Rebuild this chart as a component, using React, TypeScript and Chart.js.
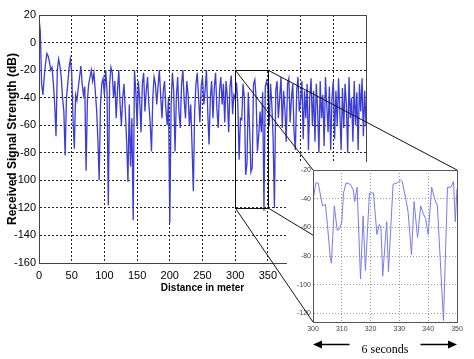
import { useEffect, useRef } from 'react';
import { Chart, registerables } from 'chart.js';

Chart.register(...registerables);

// ---------------- data ----------------
const mainStep = 2; // metres between samples of the main trace
const mainValues = [
  18, 8, -30, -38, -25, -15, -8, -10, -14, -20,
  -18, -30, -45, -68, -20, -12, -17, -25, -40, -50,
  -82, -40, -30, -18, -12, -22, -55, -77, -38, -42,
  -33, -25, -17, -30, -38, -32, -93, -42, -30, -25,
  -20, -28, -22, -35, -48, -70, -100, -45, -30, -26,
  -38, -20, -35, -118, -30, -18, -22, -40, -28, -55,
  -35, -20, -45, -60, -40, -30, -50, -72, -101, -45,
  -90, -55, -129, -20, -35, -60, -28, -42, -65, -30,
  -22, -50, -35, -25, -45, -58, -79, -40, -25, -30,
  -45, -32, -20, -38, -55, -35, -28, -48, -60, -40,
  -131, -45, -22, -35, -79, -40, -25, -50, -62, -30,
  -20, -42, -55, -28, -38, -60, -45, -75, -108, -50,
  -30, -22, -40, -58, -32, -25, -45, -35, -20, -50,
  -74, -40, -28, -55, -33, -22, -48, -62, -35, -25,
  -45, -30, -58, -28, -40, -65, -32, -24, -52, -38,
  -41, -29, -44, -85, -55, -56, -30, -40, -96, -88,
  -36, -62, -94, -91, -30, -27, -40, -79, -67, -50,
  -65, -36, -122, -32, -28, -33, -60, -30, -45, -70,
  -120, -35, -28, -55, -40, -25, -62, -35, -48, -72,
  -30, -26, -58, -40, -30, -65, -78, -35, -25, -50,
  -42, -28, -70, -35, -55, -30, -78, -40, -26, -60,
  -35, -72, -30, -48, -80, -28, -55, -38, -75, -25,
  -45, -65, -32, -78, -40, -28, -70, -35, -60, -26,
  -50, -78, -33, -62, -30, -45, -80, -25, -55, -40,
  -72, -28, -60, -36, -78, -30, -50, -26, -68, -35,
  -60,
];
const mainXTicks = [0, 50, 100, 150, 200, 250, 300, 350, 400, 450, 500];
const mainYTicks = [20, 0, -20, -40, -60, -80, -100, -120, -140, -160];

const insetDist = [
  300, 301, 301.8, 303.3, 304.3, 305, 306, 306.4, 307.4, 308.4,
  309.3, 310, 310.6, 311.5, 313, 314, 314.5, 315.3, 316.5, 317.4,
  318.2, 319.6, 321, 322.2, 323, 323.6, 324.2, 325.6, 326.2, 327.8,
  329.2, 330.3, 331, 332.4, 333, 334.2, 335.1, 336.3, 337.4, 338.2,
  339.1, 340, 341.2, 342.2, 343.2, 345.3, 346.7, 347.9, 348.8, 349.4,
  350,
];
const insetValues = [
  -41, -29, -29, -45, -44, -58, -81, -85, -45, -62,
  -61, -56, -36, -29, -30, -34, -42, -32, -96, -52,
  -90, -36, -36, -65, -58, -60, -94, -56, -91, -30,
  -29, -27, -28, -42, -49, -79, -42, -67, -45, -50,
  -54, -65, -32, -40, -45, -125, -32, -32, -28, -56,
  -33,
];
const insetXTicks = [300, 310, 320, 330, 340, 350];
const insetYTicks = [-20, -40, -60, -80, -100, -120];

const zoomX = [300, 350];
const zoomY = [-20, -120];

const xTitle = 'Distance in meter';
const yTitle = 'Received Signal Strength (dB)';
const insetTitle = '6 seconds';

// ---------------- layout ----------------
const W = 474;
const H = 359;
const INSET_LEFT = 287;
const INSET_TOP = 162;
const INSET_W = W - INSET_LEFT;
const INSET_H = H - INSET_TOP;

const NARROW = "'Liberation Sans Narrow', 'Arial Narrow', 'Liberation Sans', sans-serif";
const SANS = "'Liberation Sans', Arial, sans-serif";
const SERIF = "'Liberation Serif', 'Times New Roman', serif";

export default function App() {
  const mainRef = useRef<HTMLCanvasElement>(null);
  const insetRef = useRef<HTMLCanvasElement>(null);
  const overRef = useRef<HTMLCanvasElement>(null);

  useEffect(() => {
    const framePlugin = (color: string) => ({
      id: 'frame',
      afterDatasetsDraw(chart: any) {
        const { ctx, chartArea: a } = chart;
        ctx.save();
        ctx.strokeStyle = color;
        ctx.lineWidth = 1;
        ctx.strokeRect(Math.round(a.left) + 0.5, Math.round(a.top) + 0.5, Math.round(a.right - a.left), Math.round(a.bottom - a.top));
        ctx.restore();
      },
    });

    const main = new Chart(mainRef.current!, {
      type: 'line',
      data: {
        datasets: [
          {
            data: mainValues.map((v, i) => ({ x: i * mainStep, y: v })),
            borderColor: '#3c3cd6',
            borderWidth: 1.3,
            pointRadius: 0,
            tension: 0,
          },
        ],
      },
      options: {
        responsive: false,
        animation: false,
        devicePixelRatio: 1,
        layout: { padding: { left: 0, top: 15, right: 108, bottom: 65 } },
        plugins: { legend: { display: false }, tooltip: { enabled: false } },
        scales: {
          x: {
            type: 'linear',
            min: 0,
            max: 500,
            afterBuildTicks: (s: any) => {
              s.ticks = mainXTicks.map((v) => ({ value: v }));
            },
            afterFit: (s: any) => {
              s.height = 31;
            },
            grid: { color: '#222', drawTicks: false, lineWidth: 1 },
            border: { display: true, color: '#444', dash: [2, 2] },
            ticks: { font: { family: NARROW, size: 11 }, color: '#000', padding: 6, maxRotation: 0, autoSkip: false },
            title: {
              display: true,
              text: xTitle,
              font: { family: NARROW, size: 10, weight: 'bold' },
              color: '#000',
              padding: { top: 0, bottom: 0 },
            },
          },
          y: {
            type: 'linear',
            min: -160,
            max: 20,
            afterBuildTicks: (s: any) => {
              s.ticks = mainYTicks.map((v) => ({ value: v }));
            },
            afterFit: (s: any) => {
              s.width = 39;
            },
            grid: { color: '#222', drawTicks: false, lineWidth: 1 },
            border: { display: true, color: '#444', dash: [2, 2] },
            ticks: { font: { family: NARROW, size: 11 }, color: '#000', padding: 3, autoSkip: false },
            title: {
              display: true,
              text: yTitle,
              font: { family: SANS, size: 12, weight: 'bold' },
              color: '#000',
              padding: { top: 5, bottom: 0 },
            },
          },
        },
      },
      plugins: [framePlugin('#444')],
    } as any);

    const insetExtras = {
      id: 'insetExtras',
      beforeDraw(chart: any) {
        const { ctx } = chart;
        ctx.save();
        ctx.fillStyle = '#fff';
        ctx.fillRect(0, 0, chart.width, chart.height);
        ctx.restore();
      },
      afterDraw(chart: any) {
        const { ctx } = chart;
        const xs = chart.scales.x;
        const x0 = xs.getPixelForValue(insetXTicks[0]);
        const x1 = xs.getPixelForValue(insetXTicks[insetXTicks.length - 1]);
        const titleCenter = xs.bottom - 7.2;
        const y = Math.round(titleCenter - 6) + 0.5;
        ctx.save();
        ctx.font = `12px ${SERIF}`;
        const tw = ctx.measureText(insetTitle).width;
        const cx = (x0 + x1) / 2;
        const gap = 12;
        ctx.strokeStyle = '#000';
        ctx.fillStyle = '#000';
        ctx.lineWidth = 1.5;
        ctx.beginPath();
        ctx.moveTo(x0 + 6, y);
        ctx.lineTo(cx - tw / 2 - gap, y);
        ctx.moveTo(cx + tw / 2 + gap, y);
        ctx.lineTo(x1 - 6, y);
        ctx.stroke();
        ctx.beginPath();
        ctx.moveTo(x0, y);
        ctx.lineTo(x0 + 9, y - 4);
        ctx.lineTo(x0 + 9, y + 4);
        ctx.closePath();
        ctx.fill();
        ctx.beginPath();
        ctx.moveTo(x1, y);
        ctx.lineTo(x1 - 9, y - 4);
        ctx.lineTo(x1 - 9, y + 4);
        ctx.closePath();
        ctx.fill();
        ctx.restore();
      },
    };

    const inset = new Chart(insetRef.current!, {
      type: 'line',
      data: {
        datasets: [
          {
            data: insetDist.map((d, i) => ({ x: d, y: insetValues[i] })),
            borderColor: '#7a7aec',
            borderWidth: 1,
            pointRadius: 0,
            tension: 0,
          },
        ],
      },
      options: {
        responsive: false,
        animation: false,
        devicePixelRatio: 1,
        layout: { padding: { left: 0, top: 8, right: 17, bottom: 2 } },
        plugins: { legend: { display: false }, tooltip: { enabled: false } },
        scales: {
          x: {
            type: 'linear',
            min: 300,
            max: 350,
            afterBuildTicks: (s: any) => {
              s.ticks = insetXTicks.map((v) => ({ value: v }));
            },
            afterFit: (s: any) => {
              s.height = 35;
            },
            grid: { color: '#999', drawTicks: false },
            border: { display: true, color: '#555', dash: [1, 2] },
            ticks: { font: { family: NARROW, size: 7 }, color: '#444', padding: 3, maxRotation: 0, autoSkip: false },
            title: {
              display: true,
              text: insetTitle,
              font: { family: SERIF, size: 12 },
              color: '#000',
              padding: { top: 0, bottom: 0 },
            },
          },
          y: {
            type: 'linear',
            min: -126,
            max: -20,
            afterBuildTicks: (s: any) => {
              s.ticks = insetYTicks.map((v) => ({ value: v }));
            },
            afterFit: (s: any) => {
              s.width = 26;
            },
            grid: { color: '#999', drawTicks: false },
            border: { display: true, color: '#555', dash: [1, 2] },
            ticks: { font: { family: NARROW, size: 7 }, color: '#444', padding: 2, autoSkip: false },
          },
        },
      },
      plugins: [insetExtras, framePlugin('#555')],
    } as any);

    // zoom box and connector lines, on top of both charts
    const over = overRef.current!;
    const ctx = over.getContext('2d')!;
    ctx.clearRect(0, 0, W, H);
    const mx = main.scales.x;
    const my = main.scales.y;
    const ia = inset.chartArea;
    const iL = INSET_LEFT + ia.left;
    const iR = INSET_LEFT + ia.right;
    const iT = INSET_TOP + ia.top;
    const iB = INSET_TOP + ia.bottom;
    const rx0 = mx.getPixelForValue(zoomX[0]);
    const rx1 = mx.getPixelForValue(zoomX[1]);
    const ry0 = my.getPixelForValue(zoomY[0]);
    const ry1 = my.getPixelForValue(zoomY[1]);
    ctx.save();
    ctx.beginPath();
    ctx.rect(0, 0, W, H);
    ctx.rect(iL, iT, iR - iL, iB - iT);
    ctx.clip('evenodd');
    ctx.strokeStyle = '#111';
    ctx.lineWidth = 1;
    ctx.strokeRect(Math.round(rx0) + 0.5, Math.round(ry0) + 0.5, Math.round(rx1 - rx0), Math.round(ry1 - ry0));
    ctx.beginPath();
    ctx.moveTo(rx0, ry0);
    ctx.lineTo(iL, iT);
    ctx.moveTo(rx1, ry0);
    ctx.lineTo(iR, iT);
    ctx.moveTo(rx0, ry1);
    ctx.lineTo(iL, iB);
    ctx.moveTo(rx1, ry1);
    ctx.lineTo(iR, iB);
    ctx.stroke();
    ctx.restore();

    return () => {
      main.destroy();
      inset.destroy();
      ctx.clearRect(0, 0, W, H);
    };
  }, []);

  return (
    <div style={{ position: 'absolute', left: 0, top: 0, width: W, height: H, background: '#fff' }}>
      <canvas ref={mainRef} width={W} height={H} style={{ position: 'absolute', left: 0, top: 0 }} />
      <canvas
        ref={insetRef}
        width={INSET_W}
        height={INSET_H}
        style={{ position: 'absolute', left: INSET_LEFT, top: INSET_TOP }}
      />
      <canvas
        ref={overRef}
        width={W}
        height={H}
        style={{ position: 'absolute', left: 0, top: 0, pointerEvents: 'none' }}
      />
    </div>
  );
}
